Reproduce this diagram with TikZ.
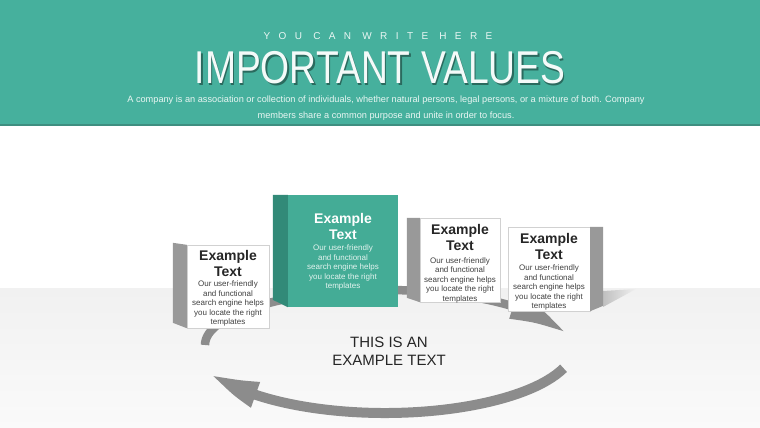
\documentclass[tikz,border=0pt]{standalone}
\usepackage{fontspec}
\setmainfont{Liberation Sans}
\newfontfamily\narrowfont{Liberation Sans}[FakeStretch=0.81]
\usetikzlibrary{arrows.meta,bending}
\definecolor{bandteal}{RGB}{70,176,157}
\definecolor{bandedge}{RGB}{62,142,128}
\definecolor{boxteal}{RGB}{68,172,150}
\definecolor{sideteal}{RGB}{50,138,120}
\definecolor{ringgray}{RGB}{140,140,140}
\definecolor{floorgray}{RGB}{241,241,241}

\begin{document}
\begin{tikzpicture}[x=1pt,y=1pt,
    face/.style={draw=black!18, fill=white, inner sep=0pt, minimum height=84pt},
    side/.style={fill=black!40},
    head/.style={font=\bfseries\fontsize{14}{16}\selectfont, align=center, text=black!85},
    body/.style={font=\fontsize{8}{9.5}\selectfont, align=center, text=black!75},
    ring/.style={draw=ringgray, line width=9pt, -{Triangle[length=42pt,width=25pt,bend]}}]
    \useasboundingbox (0,0) rectangle (760,428);
    \fill[white] (0,0) rectangle (760,428);
    \shade[top color=floorgray, bottom color=white!98!black] (0,0) rectangle (760,139);
    \fill[bandteal] (0,303) rectangle (760,428);
    \fill[bandedge] (0,301.5) rectangle (760,303.5);

    \node[text=white!88!bandteal, font=\addfontfeature{LetterSpace=84}\fontsize{10}{12}\selectfont] (tag) at (378,392) {YOU CAN WRITE HERE};
    \node[text=black!40!bandteal, font=\narrowfont\fontsize{46}{50}\selectfont] at (381.5,358.5) {IMPORTANT VALUES};
    \node[text=white!94!bandteal, font=\narrowfont\fontsize{46}{50}\selectfont] (title) at (380,360) {IMPORTANT VALUES};
    \node[align=center, text=white!88!bandteal, font=\fontsize{9.2}{16}\selectfont] (intro) at (386,320) {
        A company is an association or collection of individuals, whether natural persons, legal persons, or a mixture of both. Company\\
        members share a common purpose and unite in order to focus.};

    \coordinate (hub) at (385,83);
    \draw[ring, line width=8.5pt] ([shift={(180:180pt and 55pt)}]hub) arc[start angle=180, end angle=12, x radius=180pt, y radius=55pt];
    \draw[ring, line width=10pt] ([shift={(-20:190pt and 68pt)}]hub) arc[start angle=-20, end angle=-155, x radius=190pt, y radius=68pt];

    \shade[left color=black!25, right color=floorgray] (603,121) -- (603,137) -- (636,139) -- cycle;

    \node[face, minimum width=82pt, minimum height=83pt] (fa) at (228,141.5) {};
    \fill[side] (fa.north west) -- ++(-14,2) -- ++(0,-80) -- (fa.south west) -- cycle;
    \node[face, draw=none, fill=boxteal, minimum width=110pt, minimum height=112pt] (fb) at (343,177) {};
    \fill[sideteal] (fb.north west) -- ++(-15,0) -- ++(0,-105) -- (fb.south west) -- cycle;
    \node[face, minimum width=80pt] (fc) at (460,168) {};
    \fill[side] (fc.north west) -- ++(-13,0) -- ++(0,-80) -- (fc.south west) -- cycle;
    \node[face, minimum width=82pt] (fd) at (549,159) {};
    \fill[side] (fd.north east) -- ++(13,0) -- ++(0,-79) -- (fd.south east) -- cycle;

    \node[head] (ta) at (228,165) {Example\\Text};
    \node[body] (ba) at (228,124.5) {Our user-friendly\\and functional\\search engine helps\\you locate the right\\templates};
    \node[head, text=white] (tb) at (343,201.5) {Example\\Text};
    \node[body, text=white!85!boxteal] (bb) at (343,160.5) {Our user-friendly\\and functional\\search engine helps\\you locate the right\\templates};
    \node[head] (tc) at (460,190.5) {Example\\Text};
    \node[body] (bc) at (460,148) {Our user-friendly\\and functional\\search engine helps\\you locate the right\\templates};
    \node[head] (td) at (549,181.5) {Example\\Text};
    \node[body] (bd) at (549,140.5) {Our user-friendly\\and functional\\search engine helps\\you locate the right\\templates};

    \node[align=center, text=black!85, font=\fontsize{15}{18}\selectfont] (center) at (389,77) {THIS IS AN\\EXAMPLE TEXT};
\end{tikzpicture}
\end{document}
